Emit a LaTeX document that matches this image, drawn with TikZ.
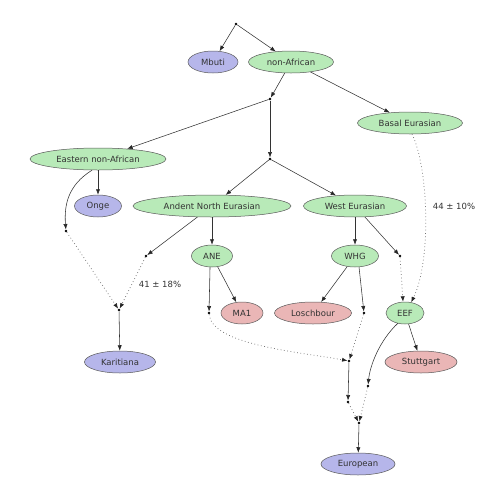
\documentclass[tikz,border=0pt]{standalone}
\usepackage{fontspec}
\setmainfont{DejaVu Sans}
\usetikzlibrary{shapes.geometric,arrows.meta}
\definecolor{nblue}{HTML}{B6B6EA}
\definecolor{ngreen}{HTML}{B8EAB8}
\definecolor{nred}{HTML}{EAB6B6}
\definecolor{txt}{HTML}{333333}
\begin{document}
\begin{tikzpicture}[x=1pt,y=-1pt,
  pop/.style={ellipse, draw=black!65, line width=0.5pt, inner sep=0pt, minimum height=22pt, text=txt, font=\fontsize{8.5}{10}\selectfont},
  popb/.style={pop, fill=nblue},
  popg/.style={pop, fill=ngreen},
  popr/.style={pop, fill=nred},
  junc/.style={circle, fill=black, inner sep=0pt, minimum size=2.6pt},
  arr/.style={-{Latex[length=5.5pt,width=4.2pt,color=black!85]}, line width=0.55pt, draw=black!80},
  mix/.style={arr, line width=0.75pt, dash pattern=on 0.75pt off 2.6pt, draw=black!55},
  lab/.style={text=txt, font=\fontsize{8.5}{10}\selectfont}]
\useasboundingbox (0,0) rectangle (496,488);
% nodes
\node[junc] (top) at (236,24) {};
\node[popb, minimum width=50pt] (mbuti) at (213,62) {Mbuti};
\node[popg, minimum width=85pt] (nonaf) at (291,62) {non-African};
\node[junc] (p1) at (270,99) {};
\node[popg, minimum width=105pt] (basal) at (410,123) {Basal Eurasian};
\node[popg, minimum width=136pt] (enaf) at (98,159) {Eastern non-African};
\node[junc] (p2) at (270,159) {};
\node[popb, minimum width=47pt] (onge) at (98,206) {Onge};
\node[popg, minimum width=158pt] (ane0) at (212,206) {Andent North Eurasian};
\node[popg, minimum width=103pt] (weur) at (355,206) {West Eurasian};
\node[junc] (p3) at (66,231) {};
\node[junc] (p4) at (146,256) {};
\node[popg, minimum width=41pt] (ane) at (212,256) {ANE};
\node[popg, minimum width=47pt] (whg) at (355,256) {WHG};
\node[junc] (p5) at (400,256) {};
\node[junc] (p6) at (119,310) {};
\node[popb, minimum width=71pt] (kari) at (120,362) {Karitiana};
\node[junc] (p7) at (209,313) {};
\node[popr, minimum width=42pt] (ma1) at (242,313) {MA1};
\node[popr, minimum width=77pt] (losch) at (313,313) {Loschbour};
\node[junc] (p8) at (364,313) {};
\node[popg, minimum width=38pt] (eef) at (405,313) {EEF};
\node[popr, minimum width=72pt] (stutt) at (421,362) {Stuttgart};
\node[junc] (p9) at (349,361) {};
\node[junc] (p10) at (348,402) {};
\node[junc] (p11) at (368,386) {};
\node[junc] (p12) at (359,423) {};
\node[popb, minimum width=74pt] (euro) at (358,464) {European};
% labels
\node[lab] (l44) at (454,206) {44 ± 10\%};
\node[lab] (l41) at (160,284) {41 ± 18\%};
% solid edges
\draw[arr] (top) -- (mbuti);
\draw[arr] (top) -- (nonaf);
\draw[arr] (nonaf) -- (p1);
\draw[arr] (nonaf) -- (basal);
\draw[arr] (p1) -- (enaf);
\draw[arr] (p1) -- (p2);
\draw[arr] (enaf) -- (onge);
\draw[arr] (enaf.-118) .. controls (68,185) and (64,205) .. (p3);
\draw[arr] (p2) -- (ane0);
\draw[arr] (p2) -- (weur);
\draw[arr] (ane0) -- (p4);
\draw[arr] (ane0) -- (ane);
\draw[arr] (weur) -- (whg);
\draw[arr] (weur) -- (p5);
\draw[arr] (p6) -- (kari);
\draw[arr] (ane.-100) -- (p7);
\draw[arr] (ane) -- (ma1);
\draw[arr] (whg) -- (losch);
\draw[arr] (whg.-70) -- (p8);
\draw[arr] (eef) -- (stutt);
\draw[arr] (eef.-125) .. controls (380,340) and (370,365) .. (p11);
\draw[arr] (p9) -- (p10);
\draw[arr] (p12) -- (euro);
% admixture edges
\draw[mix] (p3) -- (p6);
\draw[mix] (p4) -- (p6);
\draw[mix] (p5) -- (eef.100);
\draw[mix] (basal.-80) .. controls (428,165) and (432,260) .. (eef.60);
\draw[mix] (p7) .. controls (212,345) and (300,352) .. (p9);
\draw[mix] (p8) -- (p9);
\draw[mix] (p10) -- (p12);
\draw[mix] (p11) -- (p12);
\end{tikzpicture}
\end{document}
